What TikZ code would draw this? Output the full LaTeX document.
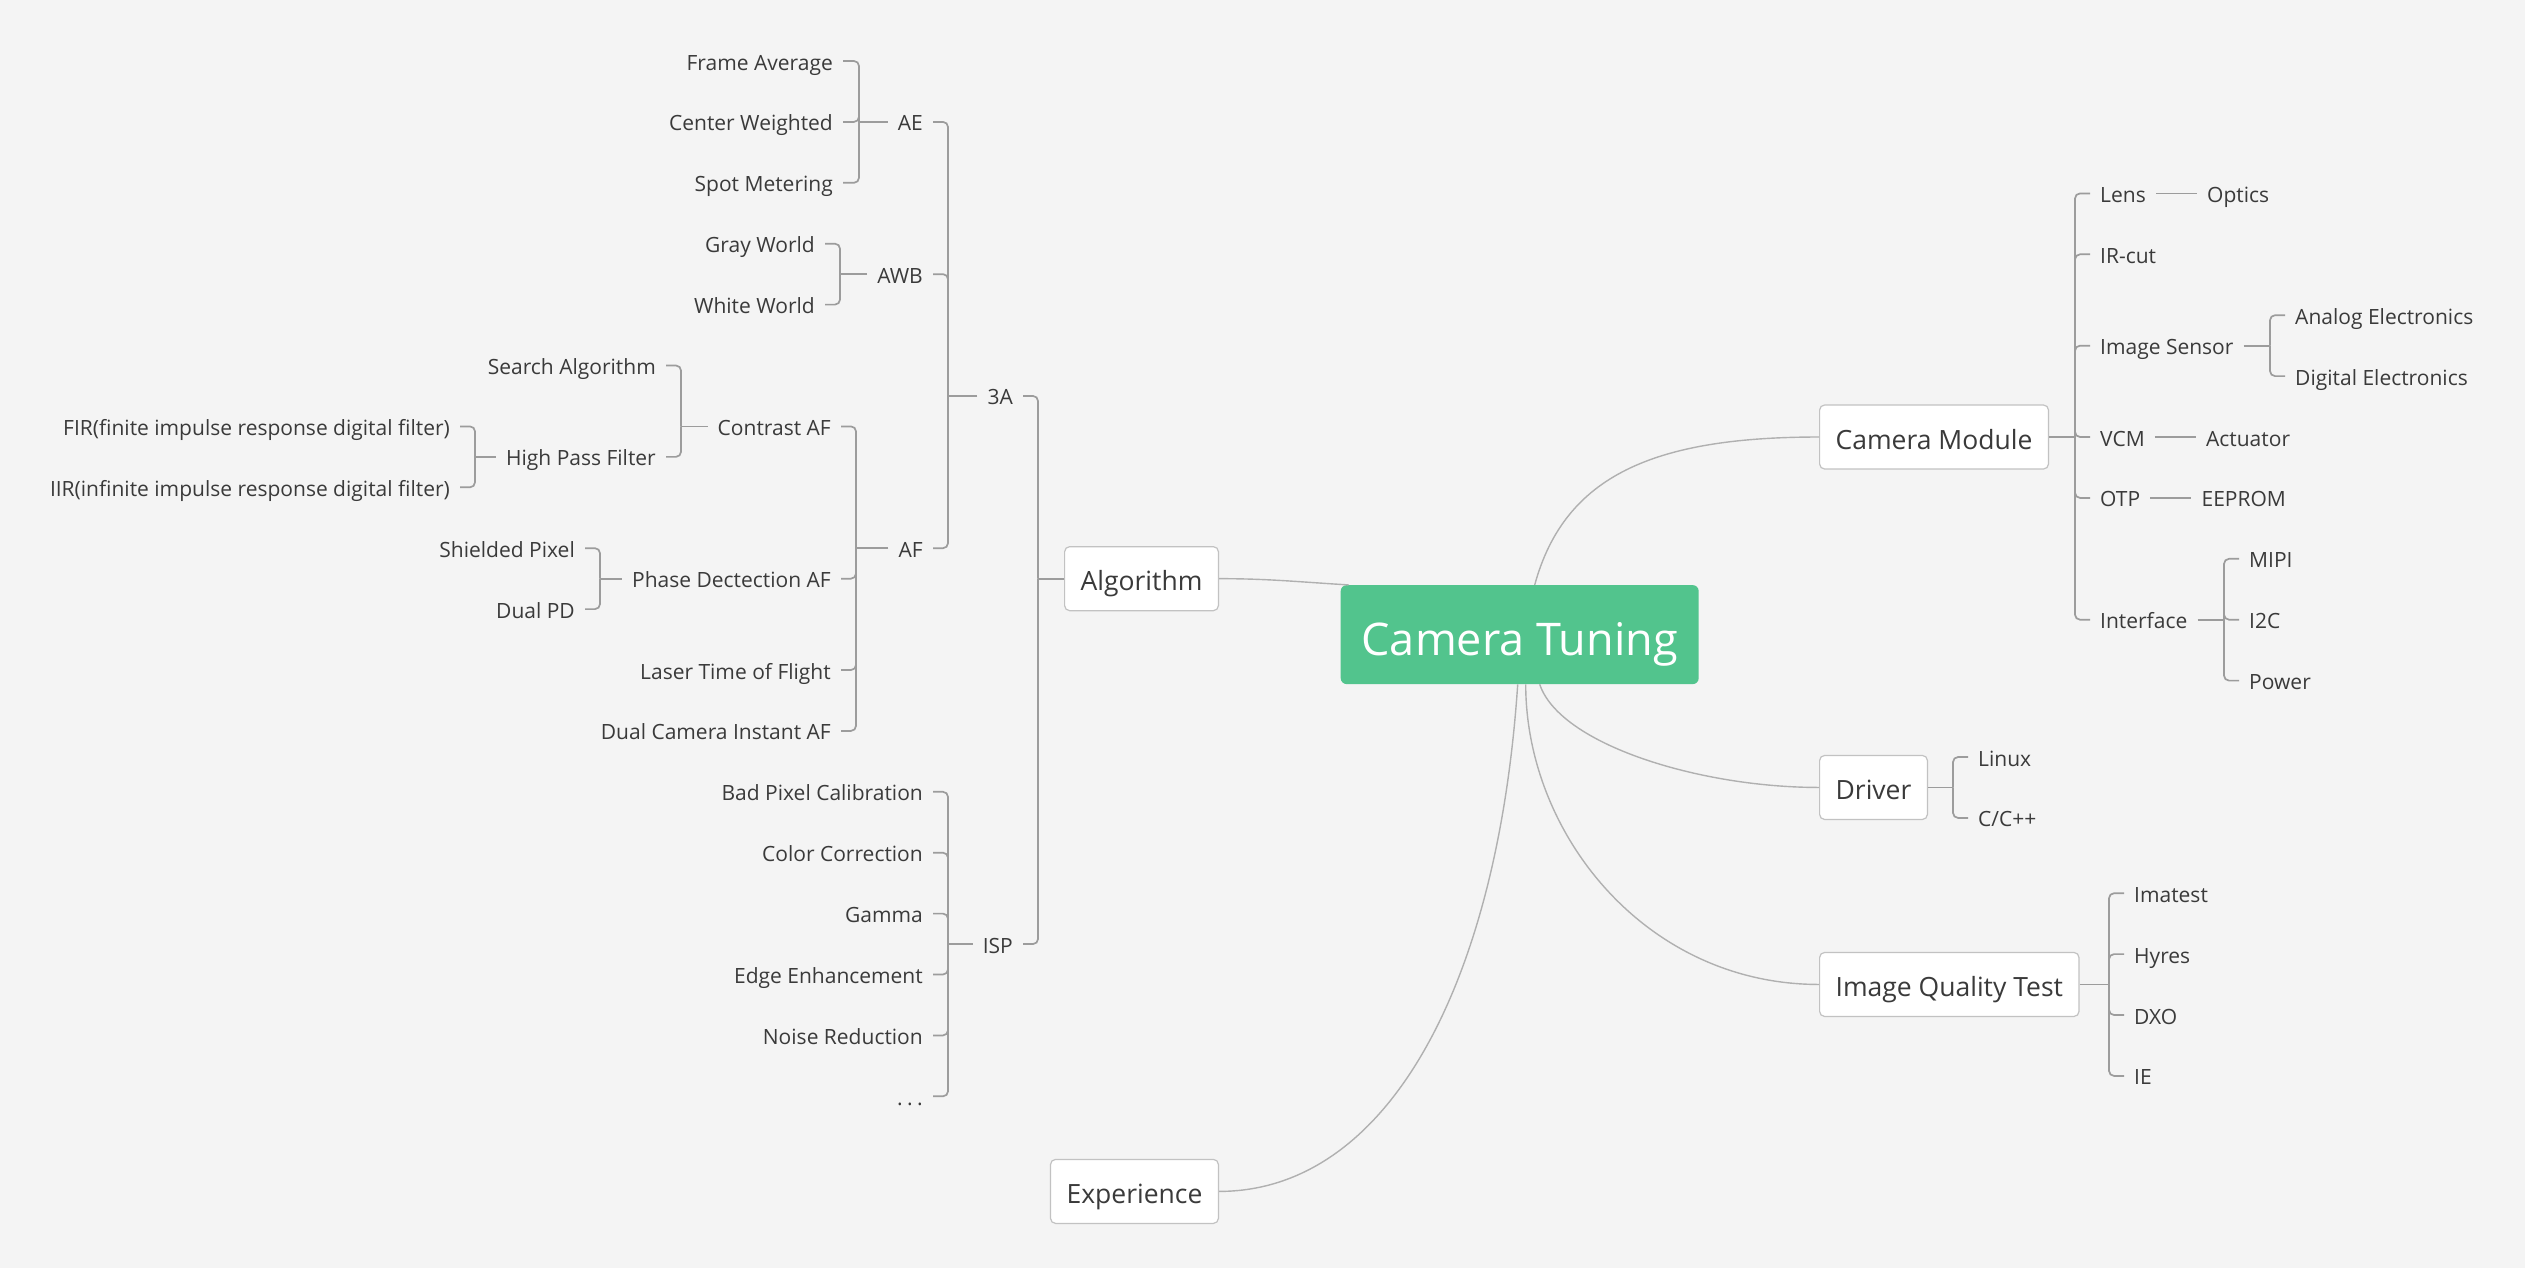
\documentclass[tikz,border=0pt]{standalone}
\usepackage{fontspec}
\setmainfont{Open Sans}
\definecolor{bgc}{HTML}{F4F4F4}
\definecolor{rootc}{HTML}{52C48D}
\definecolor{txtc}{HTML}{3A3A3A}
\definecolor{lnc}{HTML}{9C9C9C}
\definecolor{crvc}{HTML}{B0B0B0}
\definecolor{bdc}{HTML}{C2C2C2}
\newcommand\LeftBranch[3]{%
  \draw[lnk] (#1.west) -- (#1.west -| #2);
  \foreach \c in {#3} {\draw[brk] (#1.west -| #2) |- (\c.east);}
}
\newcommand\RightBranch[3]{%
  \draw[lnk] (#1.east) -- (#1.east -| #2);
  \foreach \c in {#3} {\draw[brk] (#1.east -| #2) |- (\c.west);}
}
\begin{document}
\begin{tikzpicture}[x=1pt,y=-1pt,
  leaf/.style={inner xsep=10pt, inner ysep=0pt, text=txtc, text height=18pt, text depth=0pt,
    font=\fontsize{21pt}{25pt}\selectfont},
  lt/.style={leaf, anchor=east},
  rt/.style={leaf, anchor=west},
  topic/.style={draw=bdc, line width=1.2pt, fill=white, rounded corners=5pt,
    minimum height=64pt, inner xsep=16pt, inner ysep=0pt, text=txtc,
    text height=24pt, text depth=0pt, font=\fontsize{26.5pt}{30pt}\selectfont},
  rootbox/.style={fill=rootc, rounded corners=6pt, minimum width=358pt, minimum height=99pt,
    text=white, text height=41pt, text depth=0pt, inner sep=0pt,
    font=\fontsize{45pt}{52pt}\selectfont},
  lnk/.style={draw=lnc, line width=1.7pt},
  brk/.style={draw=lnc, line width=1.7pt, rounded corners=5pt},
  crv/.style={draw=crvc, line width=1.4pt},
]
\fill[white] (0,0) rectangle (2542,1275);
\useasboundingbox (0,0) rectangle (2542,1275);
\fill[bgc] (0,0) rectangle (2525,1268);

% root and main topics
\node[rootbox] (root) at (1519.7,634.6) {Camera Tuning};
\node[topic, anchor=east] (alg) at (1219,578.65) {Algorithm};
\node[topic, anchor=east] (exp) at (1219,1191.4) {Experience};
\node[topic, anchor=west] (cm) at (1819,437) {Camera Module};
\node[topic, anchor=west] (drv) at (1819,787.45) {Driver};
\node[topic, anchor=west] (iqt) at (1819,984.45) {Image Quality Test};

\draw[crv] ([xshift=8pt]root.north west) .. controls +(-50,-3) and +(50,0) .. (alg.east);
\draw[crv] ([xshift=15pt]root.north) .. controls +(30,-110) and +(-164,0) .. (cm.west);
\draw[crv] ([xshift=20pt]root.south) .. controls +(20,60) and +(-120,0) .. (drv.west);
\draw[crv] ([xshift=6pt]root.south) .. controls +(0,150) and +(-173,0) .. (iqt.west);
\draw[crv] ([xshift=-2pt]root.south) .. controls +(-20,300) and +(169,0) .. (exp.east);

% ---------- left tree ----------
\node[lt] (a3) at (1023,395.95) {3A};
\node[lt] (isp) at (1023,944.05) {ISP};
\coordinate (bAlg) at (1038,0);

\node[lt] (ae) at (933,121.9) {AE};
\node[lt] (awb) at (933,274.15) {AWB};
\node[lt] (af) at (933,548.2) {AF};
\coordinate (b3A) at (948,0);

\node[lt] (fa) at (843,61) {Frame Average};
\node[lt] (cw) at (843,121.9) {Center Weighted};
\node[lt] (sm) at (843,182.8) {Spot Metering};
\coordinate (bAE) at (859,0);

\node[lt] (gw) at (825,243.7) {Gray World};
\node[lt] (ww) at (825,304.6) {White World};
\coordinate (bAWB) at (840,0);

\node[lt] (caf) at (841,426.4) {Contrast AF};
\node[lt] (pdaf) at (841,578.65) {Phase Dectection AF};
\node[lt] (ltof) at (841,670) {Laser Time of Flight};
\node[lt] (dcaf) at (841,730.9) {Dual Camera Instant AF};
\coordinate (bAF) at (856,0);

\node[lt] (sa) at (666,365.5) {Search Algorithm};
\node[lt] (hpf) at (666,456.85) {High Pass Filter};
\coordinate (bCAF) at (681,0);

\node[lt] (fir) at (460,426.4) {FIR(finite impulse response digital filter)};
\node[lt] (iir) at (460,487.3) {IIR(infinite impulse response digital filter)};
\coordinate (bHPF) at (475,0);

\node[lt] (sp) at (585,548.2) {Shielded Pixel};
\node[lt] (dpd) at (585,609.1) {Dual PD};
\coordinate (bPD) at (600,0);

\node[lt] (bpc) at (933,791.8) {Bad Pixel Calibration};
\node[lt] (cc) at (933,852.7) {Color Correction};
\node[lt] (gam) at (933,913.6) {Gamma};
\node[lt] (ee) at (933,974.5) {Edge Enhancement};
\node[lt] (nr) at (933,1035.4) {Noise Reduction};
\node[lt] (etc) at (933,1096.3) {.\hspace{4.5pt}.\hspace{4.5pt}.\hspace{3pt}};
\coordinate (bISP) at (948,0);

\LeftBranch{alg}{bAlg}{a3,isp}
\LeftBranch{a3}{b3A}{ae,awb,af}
\LeftBranch{ae}{bAE}{fa,cw,sm}
\LeftBranch{awb}{bAWB}{gw,ww}
\LeftBranch{af}{bAF}{caf,pdaf,ltof,dcaf}
\LeftBranch{caf}{bCAF}{sa,hpf}
\LeftBranch{hpf}{bHPF}{fir,iir}
\LeftBranch{pdaf}{bPD}{sp,dpd}
\LeftBranch{isp}{bISP}{bpc,cc,gam,ee,nr,etc}

% ---------- right tree ----------
\node[rt] (lens) at (2090,193.4) {Lens};
\node[rt] (ircut) at (2090,254.3) {IR-cut};
\node[rt] (is) at (2090,345.65) {Image Sensor};
\node[rt] (vcm) at (2090,437) {VCM};
\node[rt] (otp) at (2090,497.9) {OTP};
\node[rt] (intf) at (2090,619.7) {Interface};
\coordinate (bCM) at (2075,0);

\node[rt] (optics) at ([xshift=41pt]lens.east) {Optics};
\node[rt] (act) at ([xshift=41pt]vcm.east) {Actuator};
\node[rt] (eep) at ([xshift=41pt]otp.east) {EEPROM};
\draw[lnk] (lens) -- (optics);
\draw[lnk] (vcm) -- (act);
\draw[lnk] (otp) -- (eep);

\node[rt] (ana) at (2285,315.2) {Analog Electronics};
\node[rt] (dig) at (2285,376.1) {Digital Electronics};
\coordinate (bIS) at (2270,0);

\node[rt] (mipi) at (2239,558.8) {MIPI};
\node[rt] (i2c) at (2239,619.7) {I2C};
\node[rt] (pow) at (2239,680.6) {Power};
\coordinate (bIF) at (2224,0);

\node[rt] (linux) at (1968,757) {Linux};
\node[rt] (cpp) at (1968,817.9) {C/C++};
\coordinate (bDR) at (1953,0);

\node[rt] (imt) at (2124,893.2) {Imatest};
\node[rt] (hyr) at (2124,954.1) {Hyres};
\node[rt] (dxo) at (2124,1015) {DXO};
\node[rt] (ie) at (2124,1075.9) {IE};
\coordinate (bIQ) at (2109,0);

\RightBranch{cm}{bCM}{lens,ircut,is,vcm,otp,intf}
\RightBranch{is}{bIS}{ana,dig}
\RightBranch{intf}{bIF}{mipi,i2c,pow}
\RightBranch{drv}{bDR}{linux,cpp}
\RightBranch{iqt}{bIQ}{imt,hyr,dxo,ie}
\end{tikzpicture}
\end{document}
